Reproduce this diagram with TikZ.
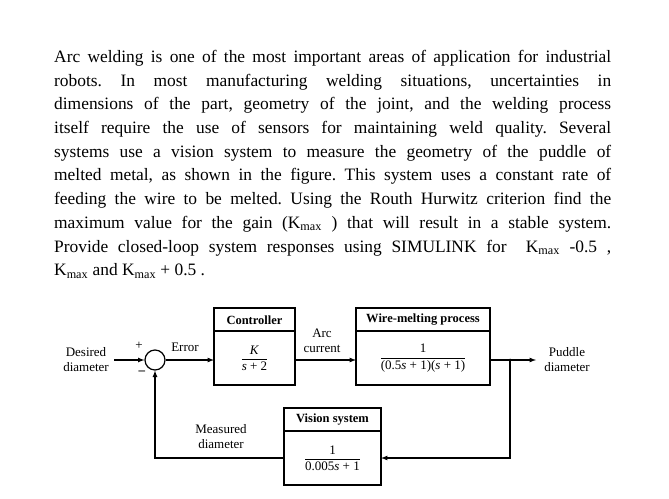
\documentclass[tikz,border=0pt]{standalone}
\usepackage{amsmath}
\usepackage{fontspec}
\setmainfont{Liberation Serif}
\newcommand{\tfr}[2]{$\dfrac{\text{#1}}{\text{#2}}$}
\begin{document}
\begin{tikzpicture}[x=1pt,y=-1pt,
  blk/.style={draw,line width=1.2pt},
  lbl/.style={font=\fontsize{13}{15}\selectfont,align=center,inner sep=0pt},
  sig/.style={line width=1.2pt,-latex}]
\useasboundingbox (0,0) rectangle (669,498);
\newcommand{\Km}{K\textsubscript{max}}
\node[anchor=north west,inner sep=0pt] (para) at (54,50) {\parbox{557pt}{\fontsize{17.4}{23.7}\selectfont\frenchspacing
Arc welding is one of the most important areas of application for industrial\linebreak
robots. In most manufacturing welding situations, uncertainties in\linebreak
dimensions of the part, geometry of the joint, and the welding process\linebreak
itself require the use of sensors for maintaining weld quality. Several\linebreak
systems use a vision system to measure the geometry of the puddle of\linebreak
melted metal, as shown in the figure. This system uses a constant rate of\linebreak
feeding the wire to be melted. Using the Routh Hurwitz criterion find the\linebreak
maximum value for the gain (\Km\ ) that will result in a stable system.\linebreak
Provide closed-loop system responses using SIMULINK for \ \Km\ -0.5 ,\linebreak
\Km\ and \Km\ + 0.5 .}};
% blocks
\draw[blk] (214,308) rectangle (295,385); \draw[blk] (214,331) -- (295,331);
\draw[blk] (356,308) rectangle (490,385); \draw[blk] (356,331) -- (490,331);
\draw[blk] (284,408) rectangle (381,485); \draw[blk] (284,431) -- (381,431);
\node[lbl,font=\fontsize{12.5}{13}\selectfont\bfseries] (ct) at (254.5,320) {Controller};
\node[lbl,font=\fontsize{12.5}{13}\selectfont\bfseries] (wt) at (423,320) {Wire-melting process};
\node[lbl,font=\fontsize{12.5}{13}\selectfont\bfseries] (vt) at (332.5,420) {Vision system};
\node[lbl] (ctf) at (254.5,358) {\tfr{\textit{K}}{\textit{s} + 2}};
\node[lbl] (wtf) at (423,358) {\tfr{1}{(0.5\textit{s} + 1)(\textit{s} + 1)}};
\node[lbl] (vtf) at (332.5,458) {\tfr{1}{0.005\textit{s} + 1}};
\coordinate (ctl) at (214,360); \coordinate (ctr) at (295,360);
\coordinate (wl) at (356,360); \coordinate (wr) at (490,360);
\coordinate (vl) at (284,458); \coordinate (vr) at (381,458);
\node[draw,circle,line width=1.2pt,minimum size=20pt,inner sep=0pt] (sum) at (155,360) {};
\coordinate (in) at (114,360);
\coordinate (br) at (510,360);
\coordinate (out) at (536,360);
\draw[sig] (in) -- (sum);
\draw[sig] (sum) -- (ctl);
\draw[sig] (ctr) -- (wl);
\draw[sig] (wr) -- (out);
\fill (br) circle (1.5pt);
\draw[sig] (br) |- (vr);
\draw[sig] (vl) -| (sum.south);
\node[lbl] (dd) at (86,360) {Desired\\diameter};
\node[lbl] (pd) at (567,360) {Puddle\\diameter};
\node[lbl] (err) at (185,347) {Error};
\node[lbl] (arc) at (322,341) {Arc\\current};
\node[lbl] (md) at (221,437) {Measured\\diameter};
\node[lbl] (plus) at (139,346) {+};
\node[lbl] (minus) at (142,373) {\textbf{--}};
\end{tikzpicture}
\end{document}
